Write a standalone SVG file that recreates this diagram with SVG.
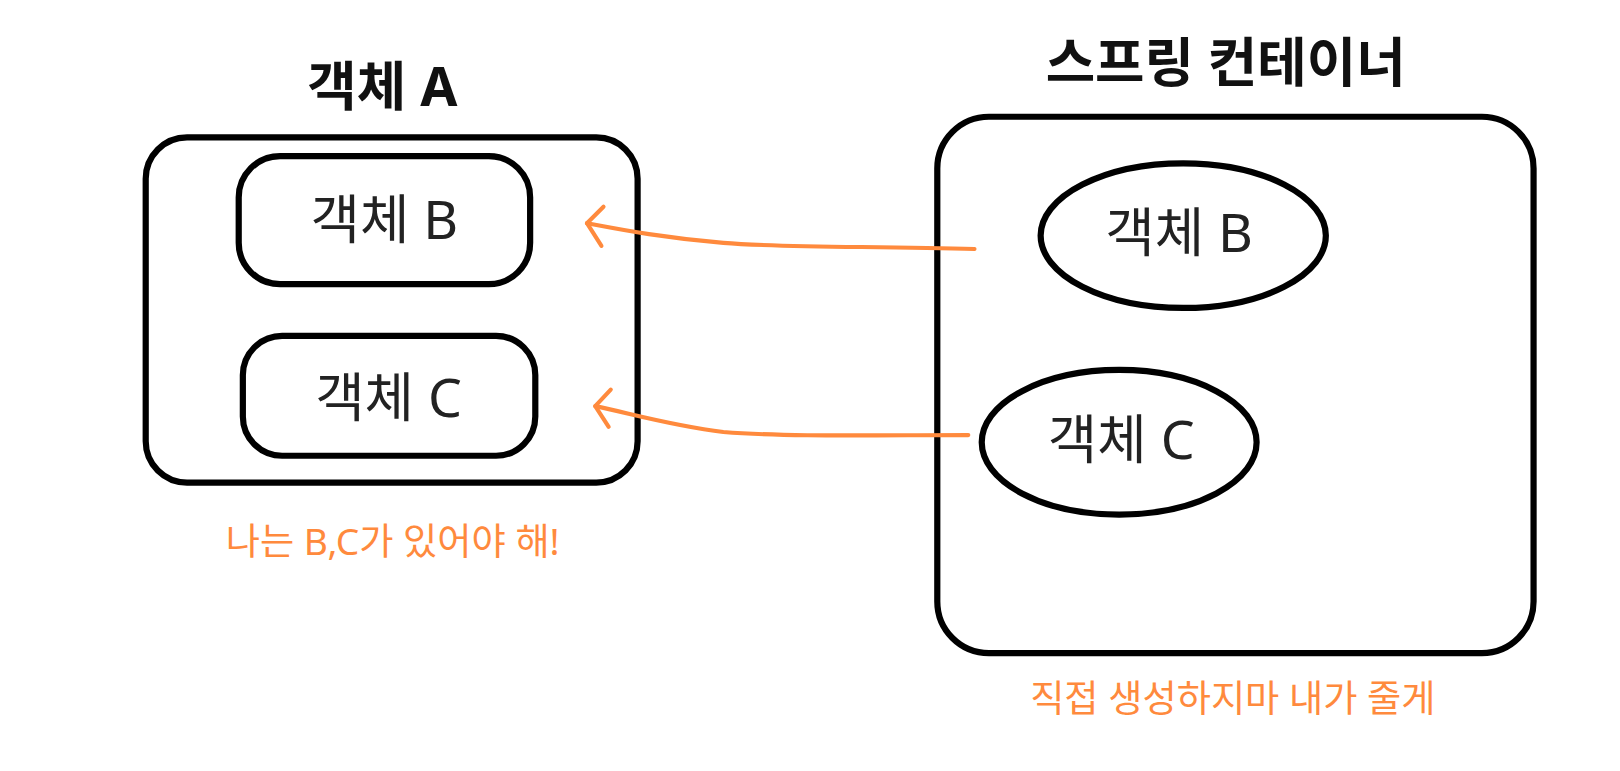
<svg xmlns="http://www.w3.org/2000/svg" width="1620" height="771" viewBox="0 0 1620 771">
<style>
.box{fill:none;stroke:#000;stroke-width:6}
.t{font-family:"Noto Sans","Noto Sans CJK KR",sans-serif;fill:#222;text-anchor:middle}
.h{font-weight:bold;font-size:52px;fill:#111}
.n{font-size:52px}
.o{fill:#FF8A3D;font-size:36px}
.c{fill:none;stroke:#FF8A3D;stroke-width:4;stroke-linecap:round;stroke-linejoin:round}
</style>
<rect width="1620" height="771" fill="#fff"/>
<g transform="scale(1.0334)">
<g id="objA">
<rect class="box" x="141" y="133" width="476" height="334" rx="40"/>
<text class="t h" x="370" y="103">객체 A</text>
<text class="t o" x="380" y="537">나는 B,C가 있어야 해!</text>
</g>
<g id="objA-B"><rect class="box" x="231" y="151" width="282" height="124" rx="40"/><text class="t n" x="372" y="231">객체 B</text></g>
<g id="objA-C"><rect class="box" x="235" y="325" width="283" height="116" rx="38"/><text class="t n" x="376" y="404">객체 C</text></g>
<g id="container">
<rect class="box" x="907" y="113" width="577" height="519" rx="50"/>
<text class="t h" x="1186" y="79">스프링 컨테이너</text>
<text class="t o" x="1193" y="689">직접 생성하지마 내가 줄게</text>
</g>
<g id="cB"><ellipse class="box" cx="1145" cy="228" rx="138" ry="70"/><text class="t n" x="1141" y="244">객체 B</text></g>
<g id="cC"><ellipse class="box" cx="1083" cy="428" rx="133" ry="70"/><text class="t n" x="1085" y="444">객체 C</text></g>
<g id="connectors">
<path class="c" d="M943 241 C850 238 760 240 700 235 C640 230 600 222 568 216"/>
<path class="c" d="M584 200 L568 216 L582 238"/>
<path class="c" d="M937 421 C850 421 760 423 700 418 C650 412 610 400 576 393"/>
<path class="c" d="M591 377 L576 393 L589 413"/>
</g>
</g>
</svg>
